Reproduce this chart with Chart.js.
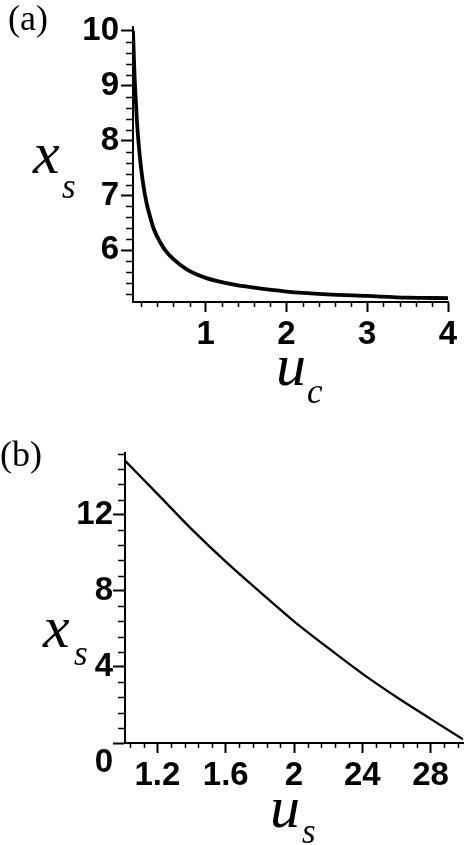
<!DOCTYPE html>
<html>
<head>
<meta charset="utf-8">
<script src="https://cdn.jsdelivr.net/npm/chart.js@4"></script>
<style>
  html, body { margin: 0; padding: 0; background: #fff; }
  #page { position: relative; width: 465px; height: 845px; background: #fff; overflow: hidden; }
  canvas { position: absolute; left: 0; }
  .lbl { position: absolute; font-family: "Liberation Serif", "Times New Roman", serif; color: #000; white-space: nowrap; }
  .it { font-style: italic; }
</style>
</head>
<body>
<div id="page">
  <canvas id="chartA" width="465" height="400" style="top:0px"></canvas>
  <canvas id="chartB" width="465" height="425" style="top:420px"></canvas>
</div>
<script>
// ---------- Panel (a) data ----------
const uC = [0.1, 0.11, 0.12, 0.13, 0.15, 0.17, 0.2, 0.23, 0.27, 0.31, 0.36, 0.44, 0.5, 0.6, 0.77, 1.0, 1.3, 1.6, 2.0, 2.5, 3.0, 3.5, 4.0];
const xsA = [10.0, 9.55, 9.15, 8.85, 8.33, 7.94, 7.5, 7.17, 6.85, 6.62, 6.38, 6.14, 6.0, 5.84, 5.65, 5.5, 5.39, 5.32, 5.25, 5.2, 5.17, 5.14, 5.13];
const aXMajor = [1, 2, 3, 4];
const aXMajorLabels = ["1", "2", "3", "4"];
const aXMinor = [0.2, 0.4, 0.6, 0.8, 1.2, 1.4, 1.6, 1.8, 2.2, 2.4, 2.6, 2.8, 3.2, 3.4, 3.6, 3.8];
const aYMajor = [6, 7, 8, 9, 10];
const aYMajorLabels = ["6", "7", "8", "9", "10"];
const aYMinor = [5.2, 5.4, 5.6, 5.8, 6.2, 6.4, 6.6, 6.8, 7.2, 7.4, 7.6, 7.8, 8.2, 8.4, 8.6, 8.8, 9.2, 9.4, 9.6, 9.8];
const aXRange = [0.1, 4.0];
const aYRange = [5.06, 10.07];

// ---------- Panel (b) data ----------
const uS = [1.01, 1.2, 1.4, 1.6, 1.8, 2.0, 2.2, 2.4, 2.6, 2.8, 3.0];
const xsB = [14.85, 13.1, 11.25, 9.54, 7.95, 6.4, 5.0, 3.65, 2.42, 1.27, 0.14];
const bXMajor = [1.2, 1.6, 2.0, 2.4, 2.8];
const bXMajorLabels = ["1.2", "1.6", "2", "24", "28"];
const bXMinor = [1.04, 1.12, 1.28, 1.36, 1.44, 1.52, 1.68, 1.76, 1.84, 1.92, 2.08, 2.16, 2.24, 2.32, 2.48, 2.56, 2.64, 2.72, 2.88, 2.96];
const bYMajor = [0, 4, 8, 12];
const bYMajorLabels = ["0", "4", "8", "12"];
const bYMinor = [0.8, 1.6, 2.4, 3.2, 4.8, 5.6, 6.4, 7.2, 8.8, 9.6, 10.4, 11.2, 12.8, 13.6, 14.4, 15.2];
const bXRange = [1.01, 2.99];
const bYRange = [0, 15.25];

// ---------- helpers ----------
const minorTicks = {
  id: 'minorTicks',
  afterDraw(chart, args, opts) {
    const ctx = chart.ctx, a = chart.chartArea;
    const xs = chart.scales.x, ys = chart.scales.y;
    ctx.save();
    ctx.strokeStyle = '#000';
    ctx.lineWidth = opts.width;
    ctx.beginPath();
    opts.xValues.forEach(v => {
      const px = Math.round(xs.getPixelForValue(v)) + 0.5;
      ctx.moveTo(px, a.bottom); ctx.lineTo(px, a.bottom + opts.xLength);
    });
    opts.yValues.forEach(v => {
      const py = Math.round(ys.getPixelForValue(v)) + 0.5;
      ctx.moveTo(a.left - opts.yLength, py); ctx.lineTo(a.left + 1, py);
    });
    ctx.stroke();
    ctx.restore();
  }
};

const tickFont = { family: '"Liberation Sans", Arial, sans-serif', weight: 'bold', size: 33 };

function makeChart(id, cfg) {
  const labelFor = (vals, labels) => (v) => {
    const i = vals.findIndex(t => Math.abs(t - v) < 1e-9);
    return i < 0 ? '' : labels[i];
  };
  return new Chart(document.getElementById(id), {
    type: 'line',
    data: {
      datasets: [{
        data: cfg.xData.map((x, i) => ({ x: x, y: cfg.yData[i] })),
        borderColor: '#000',
        borderWidth: cfg.lineWidth,
        pointRadius: 0,
        fill: false,
        tension: 0.4,
        cubicInterpolationMode: 'monotone'
      }]
    },
    options: {
      responsive: false,
      animation: false,
      devicePixelRatio: 1,
      layout: { padding: cfg.padding },
      plugins: {
        legend: { display: false },
        tooltip: { enabled: false },
        minorTicks: { xValues: cfg.xMinor, yValues: cfg.yMinor, xLength: 5, yLength: 7, width: 1.5 }
      },
      scales: {
        x: {
          type: 'linear',
          min: cfg.xRange[0], max: cfg.xRange[1],
          afterBuildTicks: (s) => { s.ticks = cfg.xMajor.map(v => ({ value: v })); },
          afterFit: (s) => { s.height = cfg.xHeight; },
          grid: { display: true, drawOnChartArea: false, drawTicks: true, tickLength: 10, tickWidth: 2, tickColor: '#000' },
          border: { display: true, color: '#000', width: 2 },
          ticks: { color: '#000', font: tickFont, padding: 3, maxRotation: 0, autoSkip: false,
                   callback: labelFor(cfg.xMajor, cfg.xLabels) }
        },
        y: {
          type: 'linear',
          min: cfg.yRange[0], max: cfg.yRange[1],
          afterBuildTicks: (s) => { s.ticks = cfg.yMajor.map(v => ({ value: v })); },
          afterFit: (s) => { s.width = cfg.yWidth; },
          grid: { display: true, drawOnChartArea: false, drawTicks: true, tickLength: 12, tickWidth: 2, tickColor: '#000' },
          border: { display: true, color: '#000', width: 2 },
          ticks: { color: '#000', font: tickFont, padding: cfg.yPad, autoSkip: false,
                   callback: (v) => {
                     const t = labelFor(cfg.yMajor, cfg.yLabels)(v);
                     return (cfg.dropZero && Math.abs(v) < 1e-9) ? ['', t] : t;
                   } }
        }
      }
    },
    plugins: [minorTicks]
  });
}

makeChart('chartA', {
  xData: uC, yData: xsA, lineWidth: 3.8,
  xRange: aXRange, yRange: aYRange,
  xMajor: aXMajor, xLabels: aXMajorLabels, xMinor: aXMinor,
  yMajor: aYMajor, yLabels: aYMajorLabels, yMinor: aYMinor,
  padding: { top: 27, right: 17, left: 0, bottom: 0 },
  xHeight: 98, yWidth: 133, yPad: 2, dropZero: false
});

makeChart('chartB', {
  xData: uS, yData: xsB, lineWidth: 2.3,
  xRange: bXRange, yRange: bYRange,
  xMajor: bXMajor, xLabels: bXMajorLabels, xMinor: bXMinor,
  yMajor: bYMajor, yLabels: bYMajorLabels, yMinor: bYMinor,
  padding: { top: 33, right: 2, left: 0, bottom: 0 },
  xHeight: 102, yWidth: 125, yPad: 0, dropZero: true
});

// ---------- text labels (real text) ----------
const page = document.getElementById('page');
function addText(txt, left, baseline, size, italic) {
  const d = document.createElement('div');
  d.className = 'lbl' + (italic ? ' it' : '');
  d.textContent = txt;
  d.style.fontSize = size + 'px';
  d.style.lineHeight = size + 'px';
  d.style.left = left + 'px';
  d.style.top = (baseline - 0.8375 * size) + 'px';
  page.appendChild(d);
}
addText('(a)', 8, 30, 36, false);
addText('(b)', 0, 466, 36, false);
addText('x', 33, 173, 60, true);
addText('s', 62, 198, 35, true);
addText('u', 276, 385, 60, true);
addText('c', 307, 403, 35, true);
addText('x', 43, 647, 60, true);
addText('s', 74, 665, 35, true);
addText('u', 270, 827, 60, true);
addText('s', 302, 843, 35, true);
</script>
</body>
</html>
